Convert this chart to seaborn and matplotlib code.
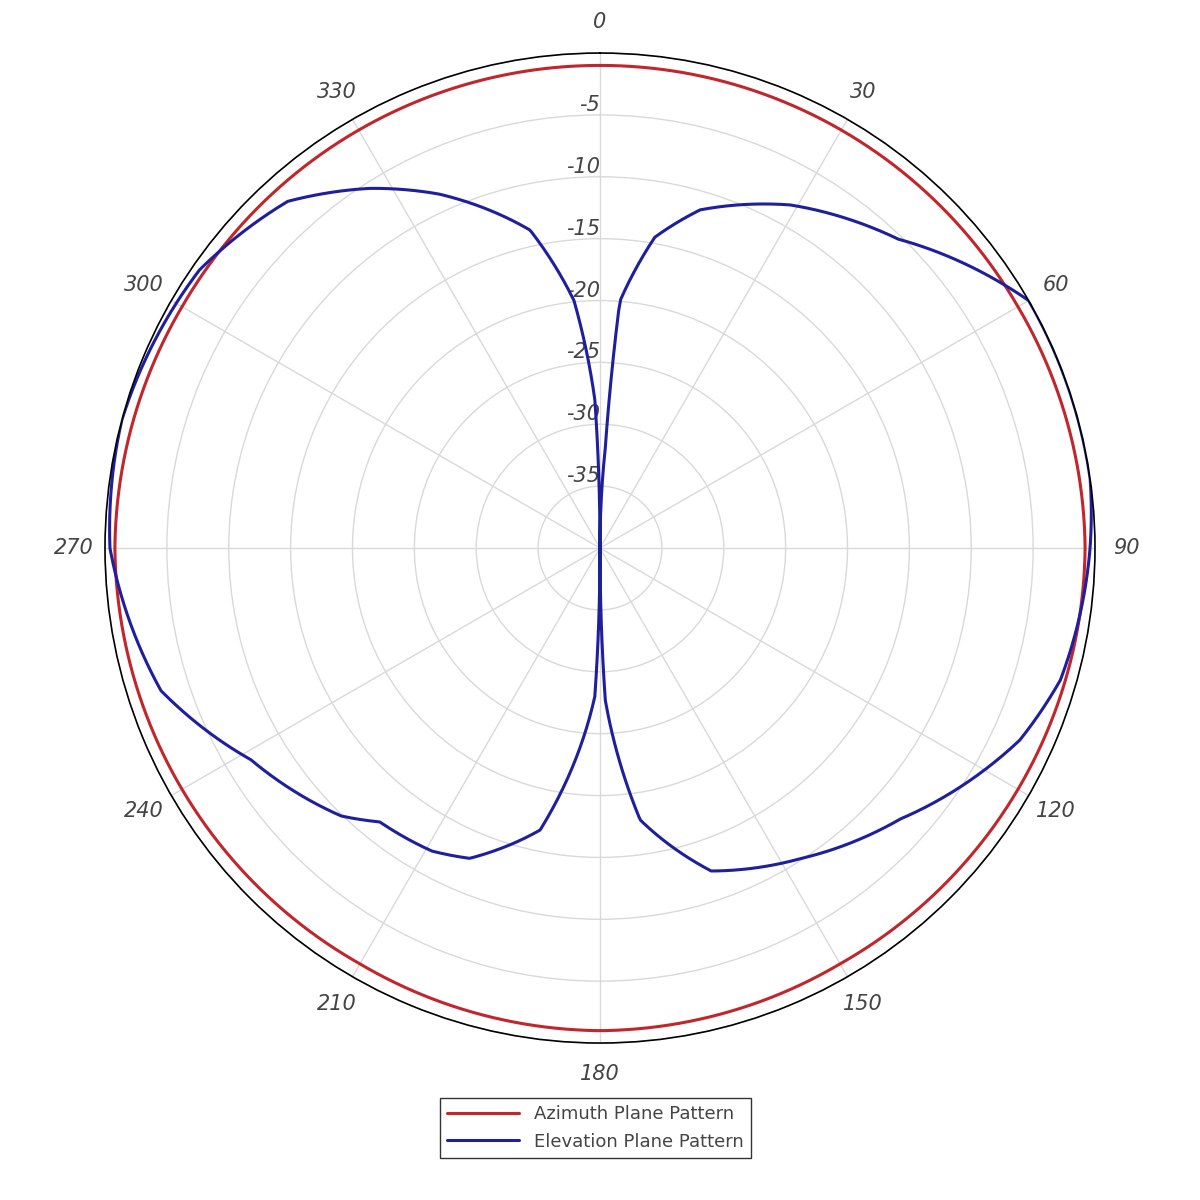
import numpy as np
import matplotlib
matplotlib.use("Agg")
import matplotlib.pyplot as plt
import seaborn as sns

# pattern data (degrees, dB)
az_angles = [0, 30, 60, 90, 120, 150, 180, 210, 240, 270, 300, 330, 360]
az_gain = [-1.0, -1.0, -1.0, -0.8, -1.0, -1.2, -1.0, -1.2, -1.0, -0.8, -1.0, -1.0, -1.0]

el_angles = [0, 3, 4.6, 10, 16.5, 29, 44, 60, 82, 90, 106, 114.6, 132, 147, 161, 171.6,
             178, 180, 182, 192, 202.8, 209, 218.8, 224, 238.8, 252, 270, 285, 304.8,
             318, 327.4, 335.6, 347.6, 354, 358, 360]
el_gain = [-40, -32, -20, -14.5, -11.5, -8.3, -5.3, 0, 0, -0.4, -1.3, -2.7, -7.3, -10.1,
           -12.4, -17.8, -27.7, -40, -28, -16.7, -12.8, -12, -11.6, -9.9, -7, -2.7, -0.4,
           0, -0.6, -2.3, -5.5, -8.6, -13.7, -19.9, -28, -40]

ring_values = [-35, -30, -25, -20, -15, -10, -5, 0]
angle_ticks = list(range(0, 360, 30))


def polar_curve(angles, gain):
    # densify so the segments follow the polar arc instead of chords
    fine = np.linspace(0, 360, 1441)
    return np.deg2rad(fine), np.interp(fine, angles, gain)


sns.set_style("white")
fig = plt.figure(figsize=(12, 12), dpi=100)
ax = fig.add_axes([0.0875, 0.1308, 0.825, 0.825], projection="polar")
ax.set_theta_zero_location("N")
ax.set_theta_direction(-1)
ax.set_rlim(-40, 0)

ax.plot(*polar_curve(az_angles, az_gain), color="#c0262b", lw=2.2, label="Azimuth Plane Pattern")
ax.plot(*polar_curve(el_angles, el_gain), color="#1f1f9e", lw=2.2, label="Elevation Plane Pattern")

ax.set_thetagrids(angle_ticks, [str(a) for a in angle_ticks], fontsize=15,
                  fontstyle="italic", color="#444444")
ax.tick_params(axis="x", pad=12)
ax.set_rgrids(ring_values, [str(v) if v != 0 else "" for v in ring_values], angle=0,
              fontsize=15, fontstyle="italic", color="#444444", ha="right")
ax.grid(color="#d9d9d9", lw=1)
ax.spines["polar"].set_color("black")
ax.spines["polar"].set_linewidth(1.2)

fig.legend(loc="center", bbox_to_anchor=(0.496, 0.06), fontsize=13, frameon=True,
           fancybox=False, edgecolor="black", handlelength=4, labelcolor="#444444")
fig.savefig("out.png", dpi=100)
